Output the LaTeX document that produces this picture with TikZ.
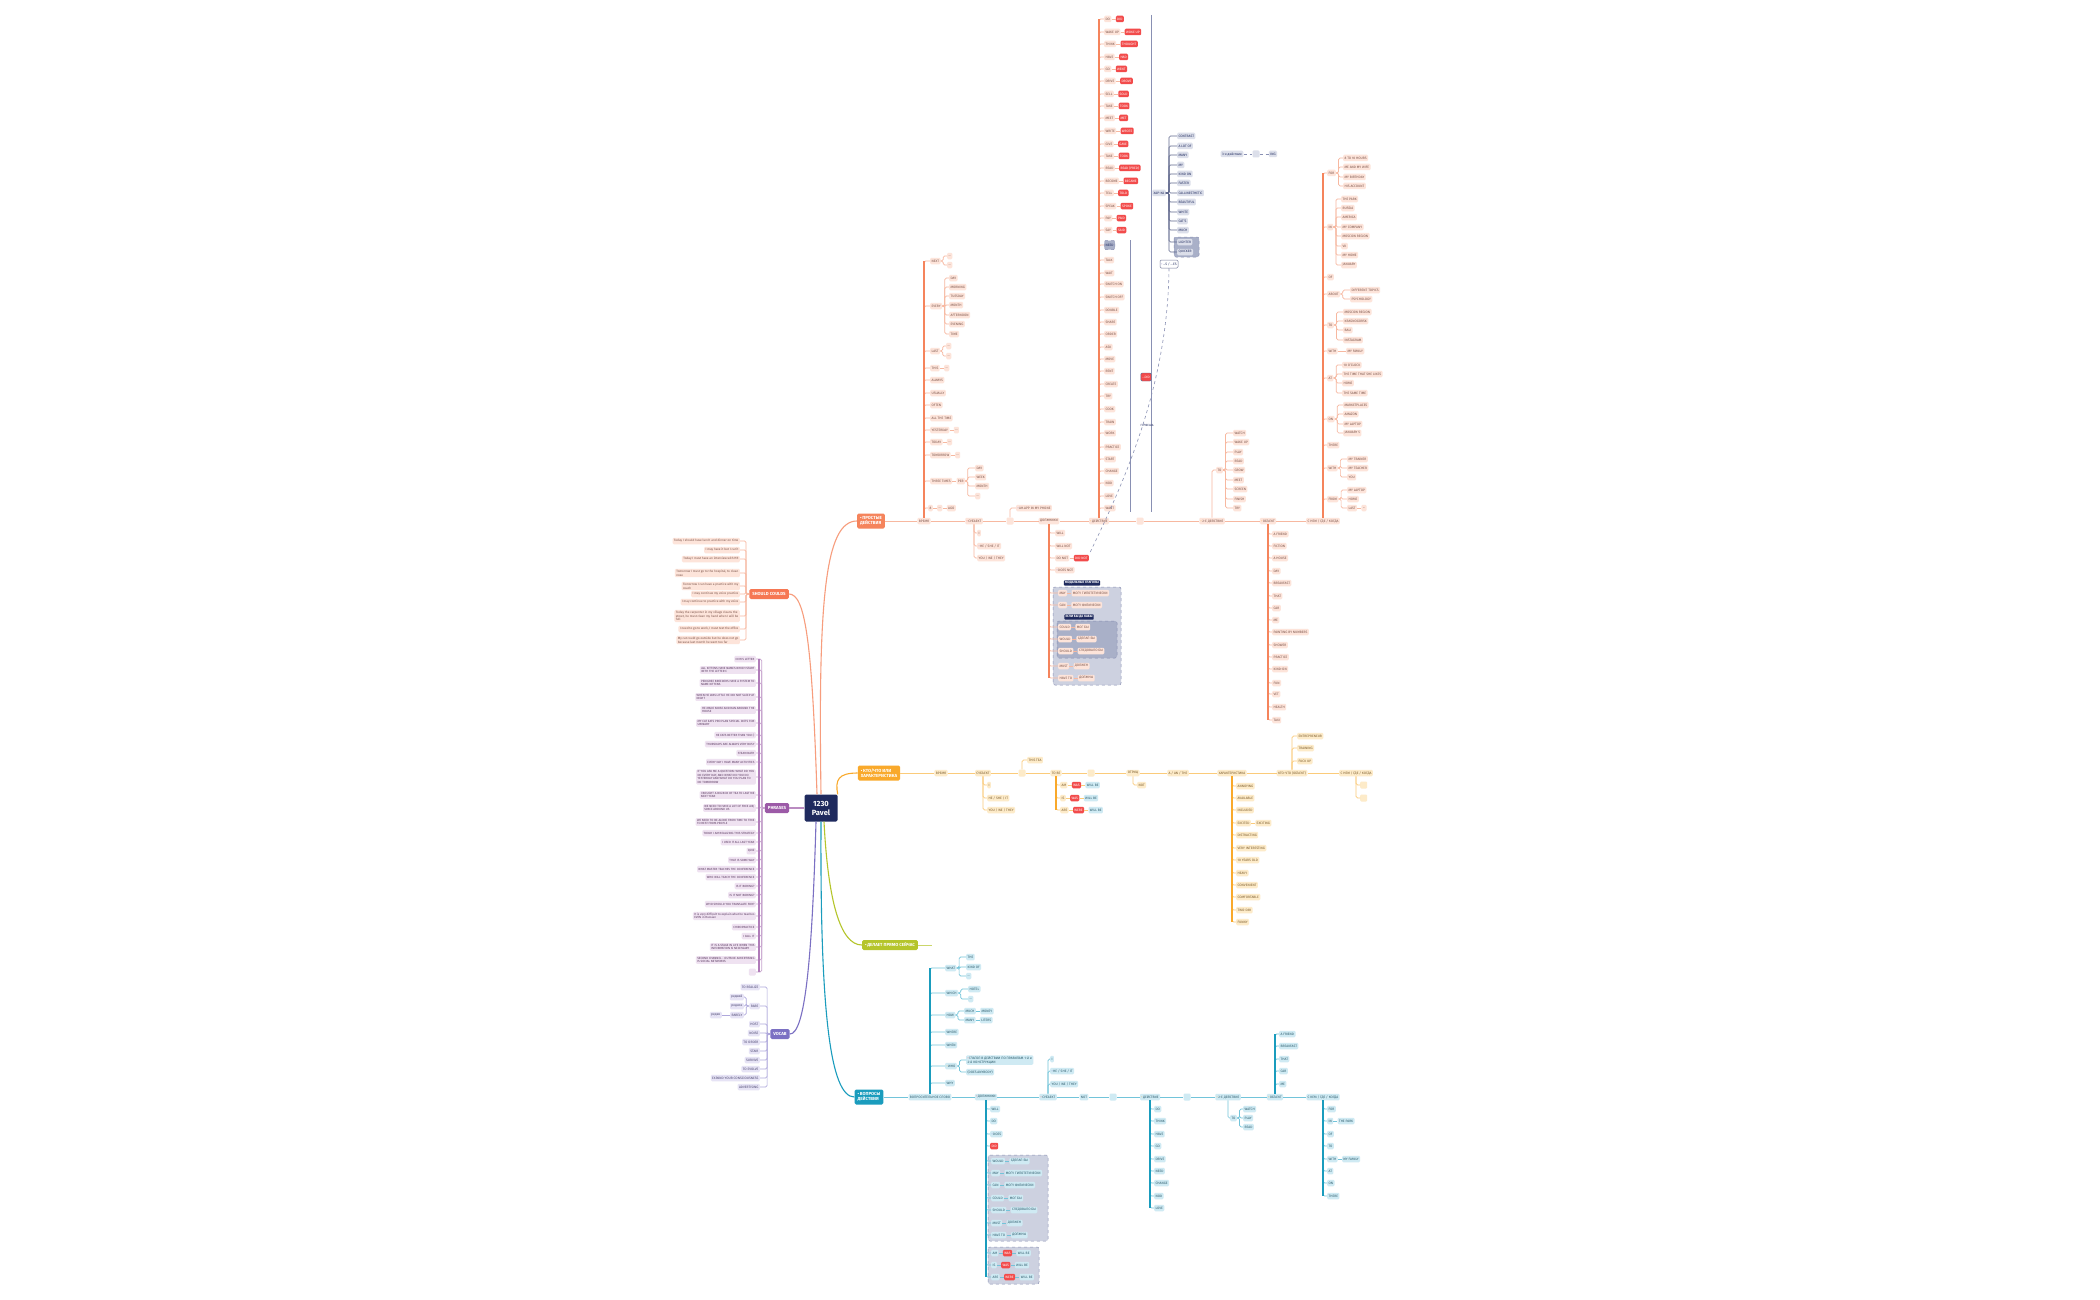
\documentclass[tikz,border=0pt]{standalone}
\usepackage{fontspec}
\setmainfont{Fira Sans}
\definecolor{oM}{HTML}{F5845C}\definecolor{oL}{HTML}{FDE4DA}\definecolor{oLn}{HTML}{F7B8A0}\definecolor{oT}{HTML}{7A5248}
\definecolor{rR}{HTML}{F24B4B}
\definecolor{aM}{HTML}{F9A92B}\definecolor{aL}{HTML}{FDEBC9}\definecolor{aLn}{HTML}{FBCB7A}\definecolor{aT}{HTML}{7A5A2A}
\definecolor{tM}{HTML}{1A9CBD}\definecolor{tL}{HTML}{CFEAF3}\definecolor{tLn}{HTML}{72C4DA}\definecolor{tT}{HTML}{2A5A6A}
\definecolor{pM}{HTML}{9C5AA7}\definecolor{pL}{HTML}{EFE2F1}\definecolor{pLn}{HTML}{C7A4CE}\definecolor{pT}{HTML}{5A3A60}
\definecolor{vM}{HTML}{7B70C3}\definecolor{vL}{HTML}{E6E3F5}\definecolor{vLn}{HTML}{AFA8DC}\definecolor{vT}{HTML}{4A4570}
\definecolor{nv}{HTML}{1F2A5E}\definecolor{gB}{HTML}{CDD1E0}\definecolor{gB2}{HTML}{A9B0C8}\definecolor{gBd}{HTML}{8990B3}\definecolor{gN}{HTML}{DCDFEA}
\definecolor{lime}{HTML}{B5C52B}
\newcommand\bg[1]{#1}
\newcommand\nd[5]{\node[#1,anchor=west] (#2) at (#3,#4) {#5};}
\newcommand\nx[4]{\node[#1,anchor=west] (#2) at ([xshift=4pt]#3.east) {#4};}
\newcommand\up[3]{\draw[#1] (#2.north) |- (#3.west);}
\newcommand\dn[3]{\draw[#1] (#2.south) |- (#3.west);}
\newcommand\hz[3]{\draw[#1] (#2.east) -- (#3.west);}
\newcommand\brk[3]{\draw[#1] (#2.east) -- ++(2.5,0) |- (#3.west);}
\newcommand\lbrk[3]{\draw[#1] (#2.west) -- ++(-3,0) |- (#3.east);}
\newcommand\dt[1]{{\color{#1}\textbullet}\,}
\newcommand\ellip{...}
\tikzset{
 lf/.style={font=\fontsize{3.3}{3.9}\selectfont, inner xsep=1.4pt, inner ysep=1.1pt, rounded corners=1.2pt, minimum height=6.5pt},
 ol/.style={lf, fill=oL, text=oT},
 oR/.style={lf, fill=rR, text=white},
 al/.style={lf, fill=aL, text=aT},
 tl/.style={lf, fill=tL, text=tT},
 pl/.style={lf, fill=pL, text=pT, align=left},
 vl/.style={lf, fill=vL, text=vT},
 gl/.style={lf, fill=gN, text=nv},
 emp/.style={fill=#1, rounded corners=1.2pt, minimum width=7pt, minimum height=7pt, inner sep=0pt},
 brn/.style={font=\fontsize{4.4}{5.2}\selectfont\bfseries, text=white, fill=#1, rounded corners=1.5pt, inner xsep=3pt, inner ysep=2pt, align=left, minimum height=15pt},
 oc/.style={draw=oLn, line width=0.7pt, rounded corners=1.5pt},
 osp/.style={draw=oM, line width=1.6pt},
 ac/.style={draw=aLn, line width=0.7pt, rounded corners=1.5pt},
 asp/.style={draw=aM, line width=1.3pt},
 tc/.style={draw=tLn, line width=0.7pt, rounded corners=1.5pt},
 tsp/.style={draw=tM, line width=1.3pt},
 pc/.style={draw=pLn, line width=0.7pt, rounded corners=1.5pt},
 psp/.style={draw=pM!80, line width=1.3pt},
 vc/.style={draw=vLn, line width=0.7pt, rounded corners=1.5pt},
 nc/.style={draw=gBd, line width=0.6pt},
 grp/.style={fill=gB, draw=gBd, dashed, line width=0.5pt, rounded corners=2pt},
 grp2/.style={fill=gB2, draw=gBd, dashed, line width=0.5pt, rounded corners=2pt},
 glab/.style={font=\fontsize{3.2}{3.8}\selectfont\bfseries, fill=nv, text=white, inner sep=1.2pt, rounded corners=0.8pt},
}
\begin{document}
\begin{tikzpicture}[x=1pt,y=-1pt]
\useasboundingbox (0,0) rectangle (2100,1300);
\fill[white] (0,0) rectangle (2100,1300);
% group boxes first
\draw[grp] (1053,587) rectangle (1121,685);
\draw[grp2] (1057,621) rectangle (1117,658);
\draw[grp2] (1174,237) rectangle (1199,257);
\draw[grp] (988,1155) rectangle (1048,1241); \draw[grp] (988,1247) rectangle (1039,1284);
% ---------- central
\node[fill=nv, text=white, font=\fontsize{7.5}{9}\selectfont\bfseries, align=center, rounded corners=1.5pt, minimum width=33pt, minimum height=27pt, inner sep=1pt] (c) at (821,808) {1230\\Pavel};
% ---------- branch nodes
\node[brn=oM] (b1) at (871,521) {\dt{white}ПРОСТЫЕ\\ДЕЙСТВИЯ};
\node[brn=aM] (b2) at (879,773) {\dt{white}КТО/ЧТО ИЛИ\\ХАРАКТЕРИСТИКА};
\node[brn=lime, minimum height=10pt] (b3) at (890,945) {\dt{white}ДЕЛАЕТ ПРЯМО СЕЙЧАС};
\node[brn=tM] (b4) at (869,1097) {\dt{white}ВОПРОСЫ\\ДЕЙСТВИЯ};
\node[brn=oM!90!red, minimum height=10pt] (sc) at (769,594) {SHOULD COULDS};
\node[brn=pM, minimum height=10pt] (ph) at (777,808) {PHRASES};
\node[brn=vM, minimum height=10pt] (vc) at (780,1034) {VOCAB};
\draw[draw=oM!80, line width=1.1pt] (c.north) .. controls (818,600) and (825,521) .. (b1.west);
\draw[draw=aM, line width=1.1pt] (c.north east) .. controls (835,780) and (838,773) .. (b2.west);
\draw[draw=oM!80, line width=1.1pt] ([xshift=-4pt]c.north) .. controls (812,640) and (805,594) .. (sc.east);
\draw[draw=pM!70, line width=1.1pt] (c.west) -- (ph.east);
\draw[draw=vM, line width=1.1pt] ([xshift=-5pt]c.south) .. controls (812,960) and (805,1034) .. (vc.east);
\draw[draw=lime, line width=1.1pt] ([xshift=3pt]c.south) .. controls (828,900) and (840,945) .. (b3.west);
\draw[draw=tM, line width=1.1pt] (c.south) .. controls (820,1010) and (830,1097) .. (b4.west);
\coordinate (b3end) at (932,945);
\draw[draw=lime!70, line width=0.8pt] (b3.east) -- (b3end);
% ================= BRANCH 1 spine
\node[ol] (vr1) at (924,521) {ВРЕМЯ};
\node[ol] (sub1) at (974,521) {\dt{rR}СУБЪЕКТ};
\node[emp=oL] (e1) at (1010,521) {};
\node[ol] (dol1) at (1049,521) {ДОЛЖНИКИ};
\node[ol] (dei1) at (1099,521) {\dt{aM}ДЕЙСТВИЕ};
\node[emp=oL] (e2) at (1140,521) {};
\node[ol] (dei12) at (1212,521) {\dt{aM}2-Е ДЕЙСТВИЕ};
\node[ol] (obj1) at (1268,521) {\dt{aM}ОБЪЕКТ};
\node[ol] (gde1) at (1323,521) {С НЕМ / ГДЕ / КОГДА};
\draw[oc,line width=1pt] (b1.east) -- (vr1) -- (sub1) -- (e1) -- (dol1) -- (dei1) -- (e2) -- (dei12) -- (obj1) -- (gde1);
% ВРЕМЯ children
\nd{ol}{nxt}{930}{261}{NEXT}\up{oc}{vr1}{nxt}
\nd{ol}{nxa}{947}{256}{...}\brk{oc}{nxt}{nxa}
\nd{ol}{nxb}{947}{265}{...}\brk{oc}{nxt}{nxb}
\nd{ol}{evr}{930}{306}{EVERY}\up{oc}{vr1}{evr}
\foreach \y/\t [count=\i] in {278/DAY,287/MORNING,296/TUESDAY,305/MONTH,315/AFTERNOON,324/EVENING,334/TIME}{
 \nd{ol}{ev\i}{949}{\y}{\t}\brk{oc}{evr}{ev\i}}
\nd{ol}{lst}{930}{351}{LAST}\up{oc}{vr1}{lst}
\nd{ol}{lsa}{946}{346}{...}\brk{oc}{lst}{lsa}
\nd{ol}{lsb}{946}{356}{...}\brk{oc}{lst}{lsb}
\nd{ol}{ths}{930}{368}{THIS}\up{oc}{vr1}{ths}
\nx{ol}{thsa}{ths}{...}\hz{oc}{ths}{thsa}
\foreach \y/\t [count=\i] in {380/ALWAYS,393/USUALLY,405/OFTEN,418/ALL THE TIME}{
 \nd{ol}{vv\i}{930}{\y}{\t}\up{oc}{vr1}{vv\i}}
\foreach \y/\t [count=\i] in {430/YESTERDAY,442/TODAY,455/TOMORROW}{
 \nd{ol}{vw\i}{930}{\y}{\t}\up{oc}{vr1}{vw\i}\nx{ol}{vwx\i}{vw\i}{...}\hz{oc}{vw\i}{vwx\i}}
\nd{ol}{thr}{930}{481}{THREE TIMES}\up{oc}{vr1}{thr}
\nx{ol}{per}{thr}{PER}\hz{oc}{thr}{per}
\foreach \y/\t [count=\i] in {468/DAY,477/WEEK,486/MONTH,496/\ellip}{
 \nd{ol}{pr\i}{975}{\y}{\t}\brk{oc}{per}{pr\i}}
\nd{ol}{eig}{928}{508}{8}\up{oc}{vr1}{eig}
\nx{ol}{eiga}{eig}{...}\hz{oc}{eig}{eiga}
\nx{ol}{ago}{eiga}{AGO}\hz{oc}{eiga}{ago}
\draw[osp] (vr1.north) -- (vr1.north |- nxt.west);
% СУБЪЕКТ children
\nd{ol}{s1a}{977}{533}{I}\dn{oc}{sub1}{s1a}
\nd{ol}{s1b}{977}{546}{\dt{vM}HE / SHE / IT}\dn{oc}{sub1}{s1b}
\nd{ol}{s1c}{977}{558}{YOU / WE / THEY}\dn{oc}{sub1}{s1c}
\nd{ol}{app}{1016}{508}{\dt{vM}АН.APP IN MY PHONE}\up{oc}{e1}{app}
% ДОЛЖНИКИ
\node[glab] (gl1) at (1082,583) {МОДАЛЬНЫЕ ГЛАГОЛЫ};
\node[glab] (gl2) at (1079,617) {ЕСЛИ БЫ ДА КАБЫ};
\nd{ol}{d1}{1055}{533}{WILL}\dn{oc}{dol1}{d1}
\nd{ol}{d2}{1055}{546}{WILL NOT}\dn{oc}{dol1}{d2}
\nd{ol}{d3}{1055}{558}{DO NOT}\dn{oc}{dol1}{d3}\nx{oR}{didnot}{d3}{DID NOT}\hz{oc}{d3}{didnot}
\nd{ol}{d4}{1055}{570}{\dt{vM}DOES NOT}\dn{oc}{dol1}{d4}
\foreach \y/\t/\r [count=\i] in {593/MAY/МОГУ ГИПОТЕТИЧЕСКИ,605/CAN/МОГУ ФИЗИЧЕСКИ,627/COULD/МОГ БЫ,639/WOULD/СДЕЛАЛ БЫ,651/SHOULD/СЛЕДОВАЛО БЫ,666/MUST/ДОЛЖЕН,678/HAVE TO/ДОЛЖНЫ}{
 \nd{ol}{dm\i}{1058}{\y}{\t}\dn{oc}{dol1}{dm\i}\nx{ol}{dmr\i}{dm\i}{\r}\hz{oc}{dm\i}{dmr\i}}
\draw[osp] (dol1.south) -- (dol1.south |- dm7.west);
% ДЕЙСТВИЕ
\foreach \y/\t/\r [count=\i] in {19/DO/DID,32/WAKE UP/WOKE UP,44/THINK/THOUGHT,57/HAVE/HAD,69/GO/WENT,81/DRIVE/DROVE,94/SELL/SOLD,106/TAKE/TOOK,118/MEET/MET,131/WRITE/WROTE,144/GIVE/GAVE,156/TAKE/TOOK,168/READ/READ (PRED),181/BECOME/BECAME,193/TELL/TOLD,206/SPEAK/SPOKE,218/PAY/PAID,230/SAY/SAID}{
 \nd{ol}{dp\i}{1104}{\y}{\t}\up{oc}{dei1}{dp\i}\nx{oR}{dpr\i}{dp\i}{\r}\hz{oc}{dp\i}{dpr\i}}
\node[lf, fill=gB2, text=nv, draw=gBd, dashed, line width=0.5pt, anchor=west, minimum height=9pt] (need) at (1104,245) {NEED};
\up{oc}{dei1}{need}
\foreach \y/\t [count=\i] in {260/TALK,273/WAIT,284/SWITCH ON,297/SWITCH OFF,310/DOUBLE,322/SHARE,334/ORDER,347/ASK,359/MOVE,371/RENT,384/CREATE,396/TRY,409/COOK,422/TRAIN,433/WORK,447/PRACTICE,459/START,471/CHANGE,483/NOD,496/LOVE,508/WANT}{
 \nd{ol}{dq\i}{1104}{\y}{\t}\up{oc}{dei1}{dq\i}}
\draw[osp] (dei1.north) -- (dei1.north |- dp1.west);
% navy lines
\coordinate (L1a) at (1130,240);\coordinate (L1b) at (1130,512);
\coordinate (L2a) at (1151,15);\coordinate (L2b) at (1151,512);
\draw[nc] (L1a) -- (L1b); \draw[nc] (L2a) -- (L2b);
\node[lf, fill=rR, text=white, draw=nv!70, line width=0.4pt, minimum height=8pt] (ddid) at (1146,377) {...DID};
\node[font=\fontsize{3}{3.6}\selectfont, text=nv, inner sep=0.5pt] (gul) at (1147,425) {ГУЛЯЕШЬ};
\node[gl] (hk) at (1159,193) {ХАР-КА};
\foreach \y/\t [count=\i] in {136/CONTRAST,146/A LOT OF,155/MANY,165/MY,174/KIND ON,183/FASTER,193/CALLINESTHETIC,202/BEAUTIFUL,212/WHITE,221/CAT'S,230/MUCH,242/LIGHTER,252/QUICKER}{
 \nd{gl}{hk\i}{1177}{\y}{\t}\draw[nc, rounded corners=1.5pt, draw=nv!70] (hk.east) -- ++(3,0) |- (hk\i.west);}
\node[lf, fill=white, draw=nv!60, line width=0.5pt, text=nv, minimum height=8pt] (ses) at (1169,264) {\dt{vM}...S / ...ES};
\draw[nc, dashed, line width=0.6pt] (ses.south) .. controls (1168,390) and (1120,490) .. (didnot.north east);
\node[gl] (d3a) at (1232,154) {3-е действие};
\node[emp=gN] (d3b) at (1256,154) {};
\node[gl] (d3c) at (1273,154) {ING};
\draw[nc,dashed] (d3a) -- (d3b) -- (d3c);
% 2-е действие
\nd{ol}{to1}{1216}{470}{TO}\up{oc}{dei12}{to1}
\foreach \y/\t [count=\i] in {433/WATCH,442/WAKE UP,452/PLAY,461/READ,470/GROW,480/MEET,489/SCREEN,499/FINISH,508/TRY}{
 \nd{ol}{tw\i}{1233}{\y}{\t}\brk{oc}{to1}{tw\i}}
% ОБЪЕКТ
\foreach \y/\t [count=\i] in {534/A FRIEND,546/FICTION,558/A HOUSE,571/DAY,583/BREAKFAST,596/THAT,608/CAR,620/ME,632/PAINTING BY NUMBERS,645/SHOWER,657/PRACTICE,669/KIND-ON,683/FUN,694/VET,707/HEALTH,720/TAXI}{
 \nd{ol}{ob\i}{1272}{\y}{\t}\dn{oc}{obj1}{ob\i}}
\draw[osp] (obj1.south) -- (obj1.south |- ob16.west);
% С НЕМ / ГДЕ / КОГДА
\nd{ol}{pfor}{1327}{173}{FOR}
\nd{ol}{pin}{1327}{227}{IN}
\nd{ol}{pof}{1327}{277}{OF}
\nd{ol}{pab}{1327}{294}{ABOUT}
\nd{ol}{pto}{1327}{325}{TO}
\nd{ol}{pwi}{1327}{351}{WITH}
\nd{ol}{pat}{1327}{378}{AT}
\nd{ol}{pon}{1327}{419}{ON}
\nd{ol}{pth}{1327}{445}{THERE}
\nd{ol}{pwi2}{1327}{468}{WITH}
\nd{ol}{pfr}{1327}{499}{FROM}
\foreach \n in {pfor,pin,pof,pab,pto,pwi,pat,pon,pth,pwi2,pfr}{\up{oc}{gde1}{\n}}
\draw[osp] (gde1.north) -- (gde1.north |- pfor.west);
\foreach \y/\t [count=\i] in {158/8 TO 10 HOURS,167/ME AND MY WIFE,177/MY BIRTHDAY,186/HIS ACCOUNT}{\nd{ol}{fo\i}{1343}{\y}{\t}\brk{oc}{pfor}{fo\i}}
\foreach \y/\t [count=\i] in {199/THE PARK,208/RUSSIA,217/AMERICA,227/MY COMPANY,236/MOSCOW REGION,246/VK,255/MY HOME,265/JANUARY}{\nd{ol}{in\i}{1341}{\y}{\t}\brk{oc}{pin}{in\i}}
\foreach \y/\t [count=\i] in {290/DIFFERENT TOPICS,299/PSYCHOLOGY}{\nd{ol}{ab\i}{1350}{\y}{\t}\brk{oc}{pab}{ab\i}}
\foreach \y/\t [count=\i] in {312/MOSCOW REGION,321/KRASNOGORSK,330/BALI,340/INSTAGRAM}{\nd{ol}{tt\i}{1343}{\y}{\t}\brk{oc}{pto}{tt\i}}
\nd{ol}{wf}{1346}{351}{MY FAMILY}\hz{oc}{pwi}{wf}
\foreach \y/\t [count=\i] in {365/10 O'CLOCK,374/THE TIME THAT SHE LIKES,383/HOME,393/THE SAME TIME}{\nd{ol}{at\i}{1342}{\y}{\t}\brk{oc}{pat}{at\i}}
\foreach \y/\t [count=\i] in {405/MARKETPLACES,414/AMAZON,424/MY LAPTOP,433/JANUARY 5}{\nd{ol}{on\i}{1343}{\y}{\t}\brk{oc}{pon}{on\i}}
\foreach \y/\t [count=\i] in {459/MY TRAINER,468/MY TEACHER,477/YOU}{\nd{ol}{wt\i}{1347}{\y}{\t}\brk{oc}{pwi2}{wt\i}}
\foreach \y/\t [count=\i] in {490/MY LAPTOP,499/HOME,508/LAST}{\nd{ol}{fr\i}{1347}{\y}{\t}\brk{oc}{pfr}{fr\i}}
\nx{ol}{frx}{fr3}{...}\hz{oc}{fr3}{frx}
% ================= BRANCH 2
\node[al] (vr2) at (941,773) {ВРЕМЯ};
\node[al] (sub2) at (983,773) {СУБЪЕКТ};
\node[emp=aL] (e3) at (1022,773) {};
\node[al] (tobe) at (1056,773) {TO BE};
\node[emp=aL] (e4) at (1091,773) {};
\node[al] (otr) at (1133,773) {ОТРИЦ};
\node[al] (art) at (1178,773) {A / AN / THE};
\node[al] (har) at (1232,773) {ХАРАКТЕРИСТИКА};
\node[al] (kto) at (1292,773) {КТО-ЧТО (ОБЪЕКТ)};
\node[al] (gde2) at (1356,773) {С НЕМ / ГДЕ / КОГДА};
\draw[ac,line width=1pt] (b2.east) -- (vr2) -- (sub2) -- (e3) -- (tobe) -- (e4) -- (otr) -- (art) -- (har) -- (kto) -- (gde2);
\nd{al}{tea}{1027}{760}{THIS TEA}\up{ac}{e3}{tea}
\nd{al}{nt}{1137}{785}{NOT}\dn{ac}{otr}{nt}
\nd{al}{s2a}{987}{785}{I}\dn{ac}{sub2}{s2a}
\nd{al}{s2b}{987}{798}{HE / SHE / IT}\dn{ac}{sub2}{s2b}
\nd{al}{s2c}{987}{810}{YOU / WE / THEY}\dn{ac}{sub2}{s2c}
\foreach \y/\t/\r [count=\i] in {785/AM/WAS,798/IS/WAS,810/ARE/WERE}{
 \nd{al}{tb\i}{1060}{\y}{\t}\dn{ac}{tobe}{tb\i}\nx{oR}{tbr\i}{tb\i}{\r}\hz{ac}{tb\i}{tbr\i}\nx{tl}{tbw\i}{tbr\i}{WILL BE}\hz{ac}{tbr\i}{tbw\i}}
\draw[asp] (tobe.south) -- (tobe.south |- tb3.west);
\foreach \y/\t [count=\i] in {786/ANNOYING,798/AVAILABLE,810/INCLUDED,823/EXCITED,835/DISTRACTING,848/VERY INTERESTING,860/10 YEARS OLD,873/HEAVY,885/CONVENIENT,897/COMFORTABLE,910/TWO-DAY,922/FUNNY}{
 \nd{al}{hr\i}{1236}{\y}{\t}\dn{ac}{har}{hr\i}}
\nx{al}{exc}{hr4}{EXCITING}\hz{ac}{hr4}{exc}
\draw[asp] (har.south) -- (har.south |- hr12.west);
\foreach \y/\t [count=\i] in {736/ENTREPRENEUR,748/TRAINING,761/FUCK UP}{\nd{al}{kt\i}{1297}{\y}{\t}\up{ac}{kto}{kt\i}}
\node[emp=aL, anchor=west] (g2a) at (1360,785) {};\dn{ac}{gde2}{g2a}
\node[emp=aL, anchor=west] (g2b) at (1360,798) {};\dn{ac}{gde2}{g2b}
% ================= BRANCH 4
\node[tl] (qw) at (930,1097) {ВОПРОСИТЕЛЬНОЕ СЛОВО};
\node[tl] (dol4) at (986,1097) {\dt{rR}ДОЛЖНИКИ};
\node[tl] (sub4) at (1048,1097) {\dt{rR}СУБЪЕКТ};
\node[tl] (not4) at (1084,1097) {NOT};
\node[emp=tL] (e5) at (1113,1097) {};
\node[tl] (dei4) at (1150,1097) {\dt{aM}ДЕЙСТВИЕ};
\node[emp=tL] (e6) at (1187,1097) {};
\node[tl] (dei42) at (1228,1097) {\dt{aM}2-Е ДЕЙСТВИЕ};
\node[tl] (obj4) at (1275,1097) {\dt{aM}ОБЪЕКТ};
\node[tl] (gde4) at (1323,1097) {С КЕМ / ГДЕ / КОГДА};
\draw[tc,line width=1pt] (b4.east) -- (qw) -- (dol4) -- (sub4) -- (not4) -- (e5) -- (dei4) -- (e6) -- (dei42) -- (obj4) -- (gde4);
\foreach \y/\t [count=\i] in {968/WHAT,993/WHICH,1015/HOW,1032/WHERE,1045/WHEN,1066/\dt{aM}WHO,1083/WHY}{\nd{tl}{q\i}{945}{\y}{\t}\up{tc}{qw}{q\i}}
\draw[tsp] (qw.north) -- (qw.north |- q1.west);
\foreach \y/\t [count=\i] in {957/THE,967/KIND OF,976/\ellip}{\nd{tl}{qa\i}{966}{\y}{\t}\brk{tc}{q1}{qa\i}}
\foreach \y/\t [count=\i] in {989/HOTEL,999/\ellip}{\nd{tl}{qb\i}{968}{\y}{\t}\brk{tc}{q2}{qb\i}}
\nd{tl}{qm1}{964}{1011}{MUCH}\brk{tc}{q3}{qm1}\nx{tl}{qm1r}{qm1}{MONEY}\hz{tc}{qm1}{qm1r}
\nd{tl}{qm2}{964}{1020}{MANY}\brk{tc}{q3}{qm2}\nx{tl}{qm2r}{qm2}{LITERS}\hz{tc}{qm2}{qm2r}
\node[tl, anchor=west, align=left] (qwa) at (966,1060) {\dt{rR}ГЛАГОЛ В ДЕЙСТВИИ ПО ПРАВИЛАМ 1-й и\\2-й КОНСТРУКЦИИ};\brk{tc}{q6}{qwa}
\nd{tl}{qwb}{966}{1072}{(DOES ANYBODY)}\brk{tc}{q6}{qwb}
\foreach \y/\t [count=\i] in {1109/WILL,1121/DO,1134/\dt{vM}DOES}{\nd{tl}{w\i}{990}{\y}{\t}\dn{tc}{dol4}{w\i}}
\nd{oR}{w4}{990}{1146}{DID}\dn{tc}{dol4}{w4}
\foreach \y/\t/\r [count=\i] in {1161/WOULD/СДЕЛАЛ БЫ,1173/MAY/МОГУ ГИПОТЕТИЧЕСКИ,1185/CAN/МОГУ ФИЗИЧЕСКИ,1198/COULD/МОГ БЫ,1210/SHOULD/СЛЕДОВАЛО БЫ,1223/MUST/ДОЛЖЕН,1235/HAVE TO/ДОЛЖНЫ}{
 \nd{tl}{wm\i}{991}{\y}{\t}\dn{tc}{dol4}{wm\i}\nx{tl}{wmr\i}{wm\i}{\r}\hz{tc}{wm\i}{wmr\i}}
\foreach \y/\t/\r [count=\i] in {1253/AM/WAS,1265/IS/WAS,1277/ARE/WERE}{
 \nd{tl}{wb\i}{991}{\y}{\t}\dn{tc}{dol4}{wb\i}\nx{oR}{wbr\i}{wb\i}{\r}\hz{tc}{wb\i}{wbr\i}\nx{tl}{wbw\i}{wbr\i}{WILL BE}\hz{tc}{wbr\i}{wbw\i}}
\draw[tsp] (dol4.south) -- (dol4.south |- wb3.west);
\nd{tl}{s4a}{1050}{1059}{I}\up{tc}{sub4}{s4a}
\nd{tl}{s4b}{1050}{1071}{\dt{vM}HE / SHE / IT}\up{tc}{sub4}{s4b}
\nd{tl}{s4c}{1050}{1084}{YOU / WE / THEY}\up{tc}{sub4}{s4c}
\foreach \y/\t [count=\i] in {1109/DO,1121/THINK,1134/HAVE,1146/GO,1159/DRIVE,1171/NEED,1183/CHANGE,1196/NOD,1208/LOVE}{\nd{tl}{dd\i}{1154}{\y}{\t}\dn{tc}{dei4}{dd\i}}
\draw[tsp] (dei4.south) -- (dei4.south |- dd9.west);
\nd{tl}{to4}{1230}{1118}{TO}\dn{tc}{dei42}{to4}
\foreach \y/\t [count=\i] in {1109/WATCH,1118/PLAY,1127/READ}{\nd{tl}{tw4\i}{1243}{\y}{\t}\brk{tc}{to4}{tw4\i}}
\foreach \y/\t [count=\i] in {1034/A FRIEND,1046/BREAKFAST,1059/THAT,1071/CAR,1084/ME}{\nd{tl}{ob4\i}{1279}{\y}{\t}\up{tc}{obj4}{ob4\i}}
\draw[tsp] (obj4.north) -- (obj4.north |- ob41.west);
\foreach \y/\t [count=\i] in {1109/FOR,1121/IN,1134/OF,1146/TO,1159/WITH,1171/AT,1183/ON,1196/THERE}{\nd{tl}{gq\i}{1327}{\y}{\t}\dn{tc}{gde4}{gq\i}}
\draw[tsp] (gde4.south) -- (gde4.south |- gq8.west);
\nx{tl}{gqp}{gq2}{THE PARK}\hz{tc}{gq2}{gqp}
\nx{tl}{gqf}{gq5}{MY FAMILY}\hz{tc}{gq5}{gqf}
% ================= SHOULD COULDS
\tikzset{scl/.style={lf, fill=oL, text=oT, anchor=east, align=left, font=\fontsize{3.1}{3.7}\selectfont}}
\foreach \y/\t [count=\i] in {541/Today I should have lunch and dinner on time,550/I may have it but I can't,559/Today I must have an interview with HR,573/{Tomorrow I must go to the hospital, to clean\\nose},586/Tomorrow I can have a practice with my\\coach,594/I may continue my voice practice,602/I may continue to practice with my voice,616/{Today the carpenter in my village cleans the\\street, he must clean my hand when I will be\\full},629/{I need to go to work, I must test the office},640/My cat could go outside but he does not go\\because last month he went too far}{
 \node[scl] (sc\i) at (740,\y) {\t};\lbrk{oc}{sc}{sc\i}}
% ================= PHRASES
\tikzset{phl/.style={pl, anchor=east, font=\fontsize{3}{3.6}\selectfont}}
\foreach \y/\t [count=\i] in {659/IN HIS LETTER,670/ALL KITTENS HAVE NAMES WHICH START\\WITH THE LETTER C,683/PEDIGREE BREEDERS HAVE A SYSTEM TO\\NAME KITTENS,697/WHEN HE WAS LITTLE HE DID NOT SLEEP AT\\NIGHT,710/HE MADE NOISE AND RAN AROUND THE\\HOUSE,723/MY CAT EATS PRO PLAN SPECIAL DIETS FOR\\URINARY,735/HE EATS BETTER THAN YOU :),744/THURSDAYS ARE ALWAYS VERY BUSY,753/STEAM BATH,762/EVERY DAY I HAVE MANY ACTIVITIES,777/{IF YOU ASK ME A QUESTION: WHAT DO YOU\\DO EVERY DAY, AND WHAT DID YOU DO\\YESTERDAY AND WHAT DO YOU PLAN TO\\DO TOMORROW},795/I BOUGHT A BIG BOX OF TEA TO LAST ME\\NEXT YEAR,808/{WE NEED TO HAVE A LOT OF FREE AIR,\\SPACE AROUND US},822/WE NEED TO BE ALONE FROM TIME TO TIME\\TO REST FROM PEOPLE,833/TODAY I AM REALIZING THIS STRATEGY,842/I USED IT ALL LAST YEAR,851/QUIZ,860/THAT IS SOME WAY,869/WHAT MASTER TEACHES THE CONFERENCE,877/WHO WILL TEACH THE CONFERENCE,886/IS IT BORING?,895/IS IT NOT BORING?,904/WHO SHOULD YOU TRANSLATE FOR?,916/It is very difficult to explain what he teaches\\EVEN in Russian,927/CHIROPRACTICE,936/I CALL IT,947/IT IS A STAGE IN LIFE WHEN THIS\\INFORMATION IS NECESSARY,960/SECOND CHANNEL - OUTSIDE ADVERTISING\\IS SOCIAL NETWORKS}{
 \node[phl] (ph\i) at (756,\y) {\t};\lbrk{pc}{ph}{ph\i}}
\node[emp=pL, anchor=east] (phe) at (756,972) {};\lbrk{pc}{ph}{phe}
\draw[psp] (759,659) -- (759,972);
% ================= VOCAB
\tikzset{vcl/.style={vl, anchor=east}}
\foreach \y/\t [count=\i] in {987/TO REALIZE,1006/RARE,1024/HOST,1033/NOISE,1042/TO ORDER,1051/STAIR,1060/SURVIVE,1069/TO EVOLVE,1078/EXPAND YOUR CONSCIOUSNESS,1087/ADVERTISING}{
 \node[vcl] (vo\i) at (760,\y) {\t};\lbrk{vc}{vc}{vo\i}}
\foreach \y/\t [count=\i] in {997/редкий,1006/редкое,1015/RARELY}{
 \node[vcl] (vr\i) at (744,\y) {\t};\lbrk{vc}{vo2}{vr\i}}
\node[vcl] (vrr) at (722,1015) {редко};\draw[vc] (vr3.west) -- (vrr.east);
\end{tikzpicture}
\end{document}
